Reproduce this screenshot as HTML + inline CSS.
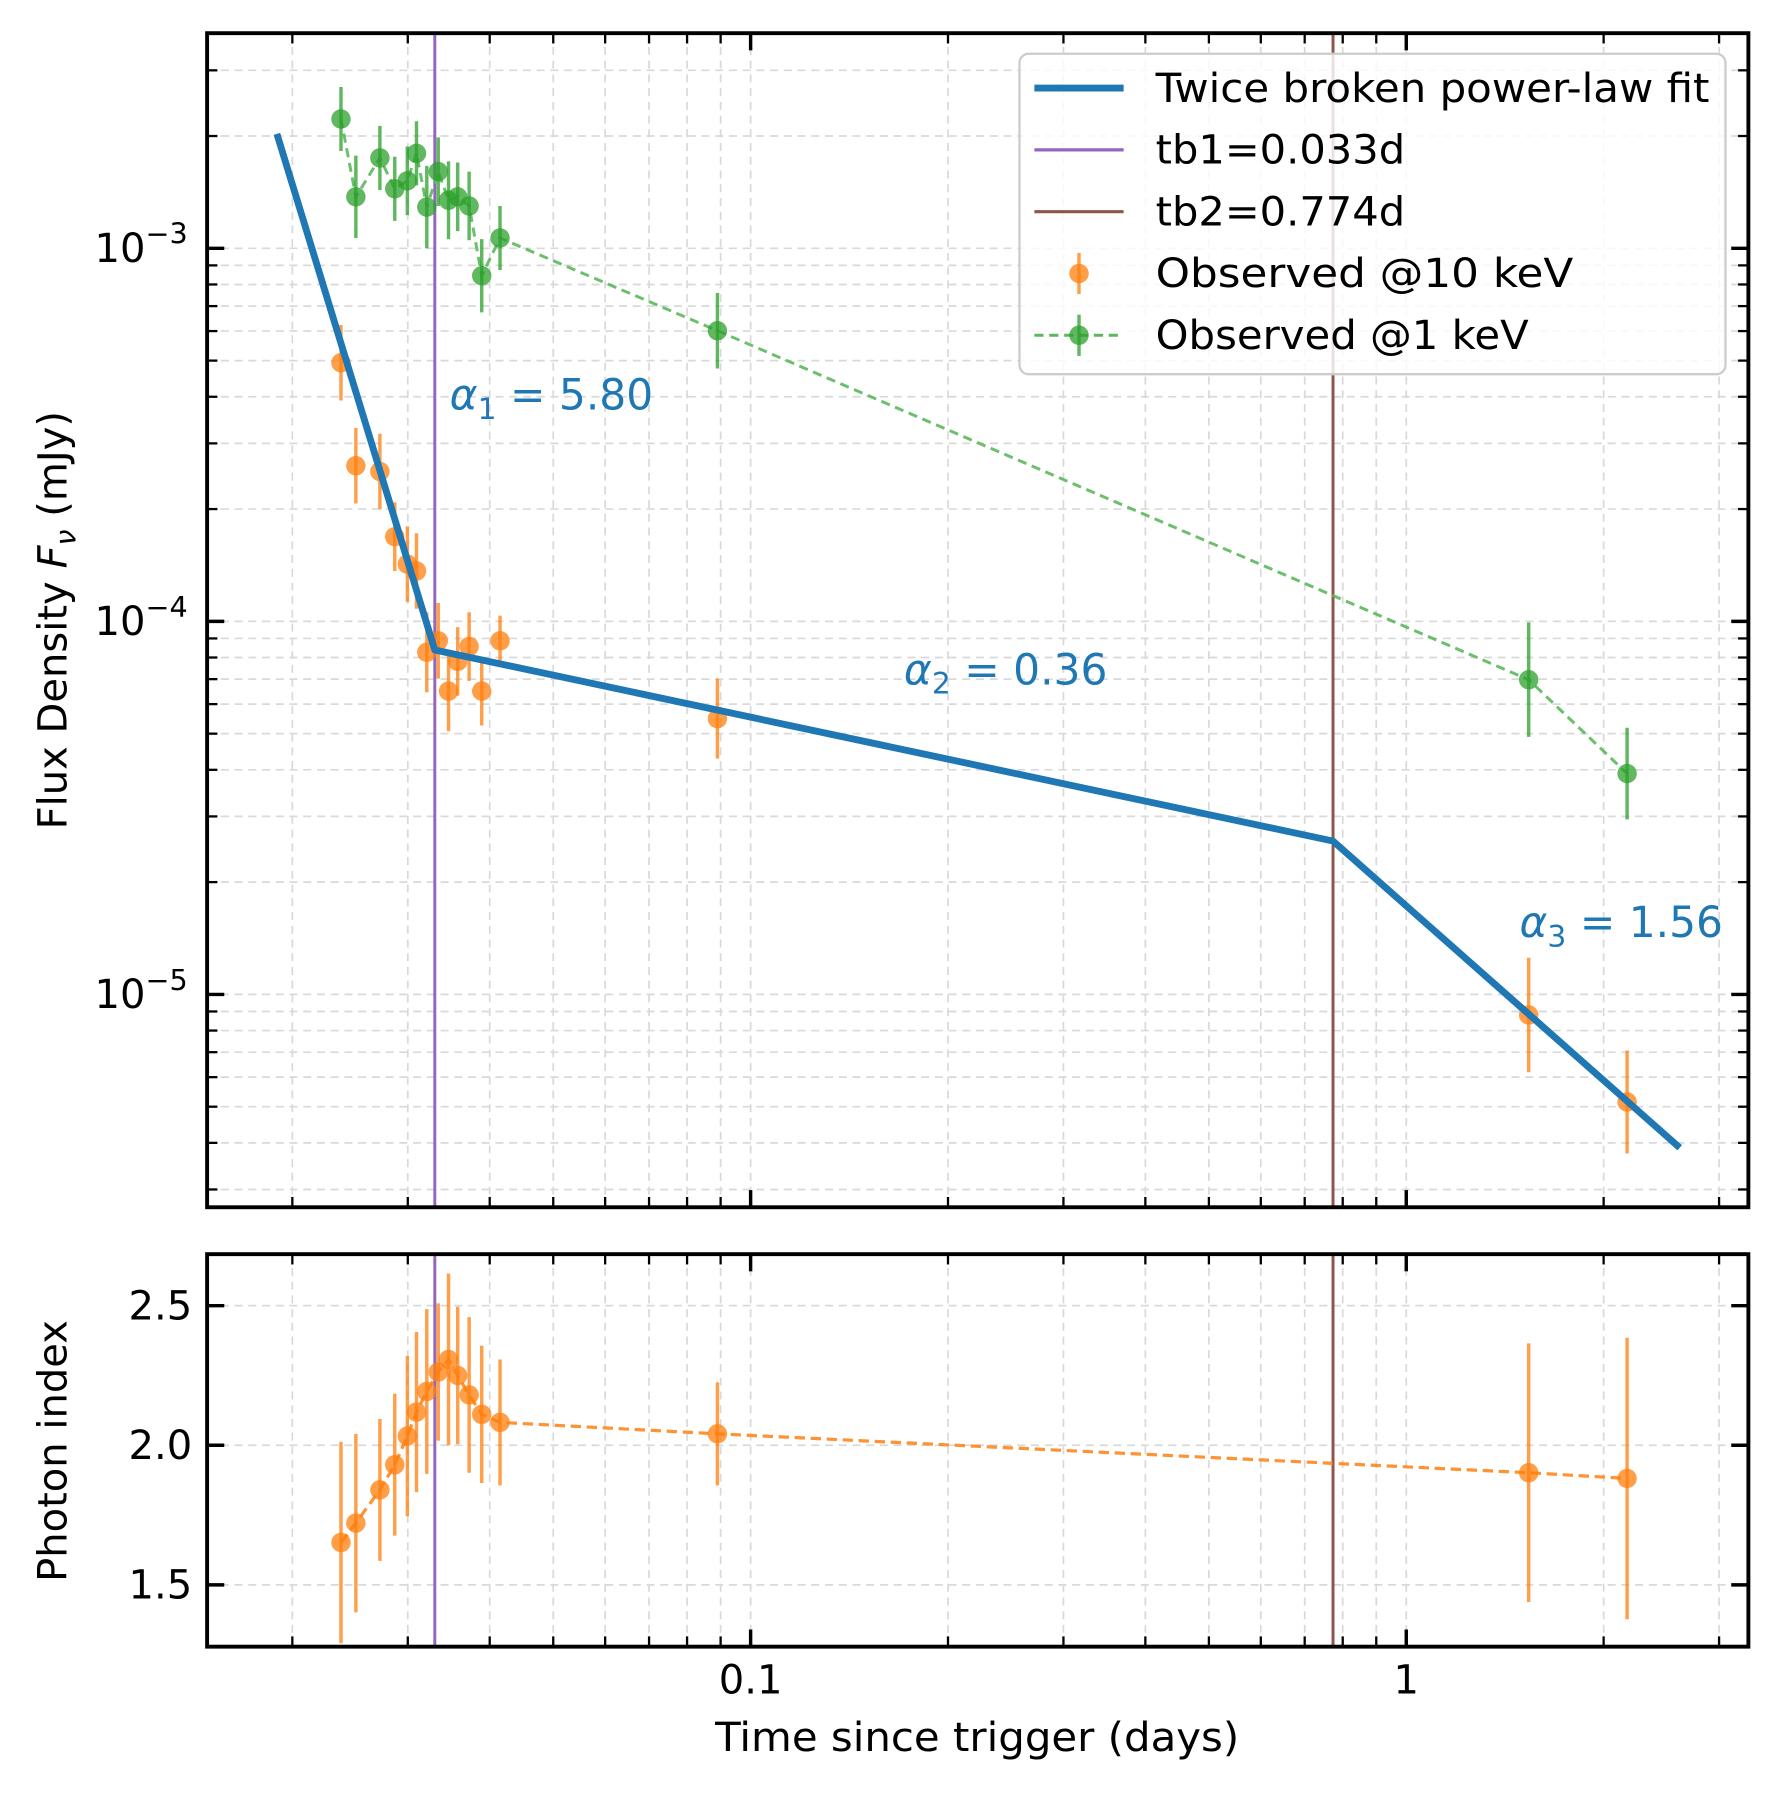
<!DOCTYPE html>
<html><head><meta charset="utf-8"><style>
html,body{margin:0;padding:0;background:#fff;}
svg{display:block;}
text{font-family:"DejaVu Sans","Liberation Sans",sans-serif;}
</style></head><body>
<svg id="s" width="1785" height="1800" viewBox="0 0 1560 1573" preserveAspectRatio="none" xmlns="http://www.w3.org/2000/svg">
<rect width="1560" height="1573" fill="#fff"/>
<g id="grid"></g>
<g id="data"></g>
<g id="frame"></g>
</svg>
<script>
const NS="http://www.w3.org/2000/svg";
function el(p,t,a,txt){const e=document.createElementNS(NS,t);for(const k in a)e.setAttribute(k,a[k]);if(txt!==undefined)e.textContent=txt;p.appendChild(e);return e;}
const G=document.getElementById('grid'),D=document.getElementById('data'),F=document.getElementById('frame');
const L=181,R=1528,T1=29,B1=1055,T2=1096,B2=1439;
const X=t=>656+573*Math.log10(t/0.1);
const Y=f=>217-326*Math.log10(f/1e-3);
const Y2=v=>1263-244*(v-2);
let xs=[];
for(const d of [0.01,0.1,1])for(let m=1;m<10;m++){const t=d*m;const x=X(t);if(x>L+1&&x<R-1)xs.push([x,m==1]);}
const gs={stroke:'#d9d9d9','stroke-width':1.5,'stroke-dasharray':'7,5',fill:'none'};
for(const [x,maj] of xs){
 el(G,'line',Object.assign({x1:x,x2:x,y1:T1,y2:B1},gs));
 el(G,'line',Object.assign({x1:x,x2:x,y1:T2,y2:B2},gs));
 const l=maj?15:9,w=maj?3:2;
 for(const [a,b] of [[T1,1],[B1,-1],[T2,1],[B2,-1]])el(F,'line',{x1:x,x2:x,y1:a,y2:a+b*l,stroke:'#000','stroke-width':w});
}
for(const d of [1e-6,1e-5,1e-4,1e-3])for(let m=1;m<10;m++){const f=d*m;const y=Y(f);if(y>T1+1&&y<B1-1){
 el(G,'line',Object.assign({x1:L,x2:R,y1:y,y2:y},gs));
 const maj=m==1,l=maj?15:9,w=maj?3:2;
 el(F,'line',{x1:L,x2:L+l,y1:y,y2:y,stroke:'#000','stroke-width':w});
 el(F,'line',{x1:R,x2:R-l,y1:y,y2:y,stroke:'#000','stroke-width':w});
}}
for(const v of [1.5,2.0,2.5]){const y=Y2(v);
 el(G,'line',Object.assign({x1:L,x2:R,y1:y,y2:y},gs));
 el(F,'line',{x1:L,x2:L+15,y1:y,y2:y,stroke:'#000','stroke-width':3});
 el(F,'line',{x1:R,x2:R-15,y1:y,y2:y,stroke:'#000','stroke-width':3});
 el(F,'text',{x:168,y:y+12,'text-anchor':'end','font-size':35},v.toFixed(1));
}
for(const [x,c] of [[380,'#9467bd'],[1165,'#8c564b']]){
 el(D,'line',{x1:x,x2:x,y1:T1,y2:B1,stroke:c,'stroke-width':2.6});
 el(D,'line',{x1:x,x2:x,y1:T2,y2:B2,stroke:c,'stroke-width':2.6});
}
const gx=[298,311,332,345,356,364,373,383,392,400,410,421,437,627,1336,1422];
const gy=[104,172,138,165,158,134,181,150,175,172,180,241,208,289,594,676];
const ge=[28,36,28,28,30,28,36,30,34,30,30,32,28,33,50,40];
el(D,'polyline',{points:gx.map((x,i)=>x+','+gy[i]).join(' '),fill:'none',stroke:'#5cb85c','stroke-width':2.6,'stroke-dasharray':'8,5',opacity:0.9});
gx.forEach((x,i)=>{el(D,'line',{x1:x,x2:x,y1:gy[i]-ge[i],y2:gy[i]+ge[i],stroke:'#2ca02c','stroke-width':3,opacity:0.75});
 el(D,'circle',{cx:x,cy:gy[i],r:8.5,fill:'#2ca02c',opacity:0.75});});
const oy=[317,407,412,469,493,499,570,560,604,578,565,604,560,628,887,963];
const oe=[33,33,33,30,33,33,35,33,35,30,30,30,22,35,50,45];
gx.forEach((x,i)=>{el(D,'line',{x1:x,x2:x,y1:oy[i]-oe[i],y2:oy[i]+oe[i],stroke:'#ff7f0e','stroke-width':3,opacity:0.75});
 el(D,'circle',{cx:x,cy:oy[i],r:8.5,fill:'#ff7f0e',opacity:0.75});});
el(D,'polyline',{points:'242,117 380,568 1165,735 1468,1003',fill:'none',stroke:'#1f77b4','stroke-width':6,'stroke-linejoin':'round'});
const by=[1348,1331,1302,1280,1255,1234,1216,1199,1188,1202,1219,1236,1243,1253,1287,1292];
const be=[88,78,62,62,70,70,72,60,75,60,68,60,55,45,113,123];
el(D,'polyline',{points:gx.map((x,i)=>x+','+by[i]).join(' '),fill:'none',stroke:'#ff7f0e','stroke-width':2.8,'stroke-dasharray':'9,5',opacity:0.85});
gx.forEach((x,i)=>{el(D,'line',{x1:x,x2:x,y1:by[i]-be[i],y2:by[i]+be[i],stroke:'#ff7f0e','stroke-width':3,opacity:0.75});
 el(D,'circle',{cx:x,cy:by[i],r:8.5,fill:'#ff7f0e',opacity:0.75});});
const ann=[[393,358,'1','5.80'],[790,598,'2','0.36'],[1328,819,'3','1.56']];
for(const [x,y,s,v] of ann){const t=el(D,'text',{x:x,y:y,'font-size':37,fill:'#1f77b4'});
 el(t,'tspan',{'font-style':'italic'},'α');el(t,'tspan',{'font-size':26,dy:8},s);el(t,'tspan',{dy:-8},' = '+v);}
el(F,'rect',{x:891,y:47,width:617,height:280,rx:8,fill:'#fff','fill-opacity':0.82,stroke:'#cccccc','stroke-width':2});
const ly=[77,131,185,239,293];
el(F,'line',{x1:904,x2:982,y1:77,y2:77,stroke:'#1f77b4','stroke-width':6});
el(F,'line',{x1:904,x2:982,y1:131,y2:131,stroke:'#9467bd','stroke-width':2.8});
el(F,'line',{x1:904,x2:982,y1:185,y2:185,stroke:'#8c564b','stroke-width':2.8});
el(F,'line',{x1:943,x2:943,y1:221,y2:257,stroke:'#ff7f0e','stroke-width':3,opacity:0.75});
el(F,'circle',{cx:943,cy:239,r:8.5,fill:'#ff7f0e',opacity:0.75});
el(F,'line',{x1:904,x2:982,y1:293,y2:293,stroke:'#5cb85c','stroke-width':2.6,'stroke-dasharray':'8,5'});
el(F,'line',{x1:943,x2:943,y1:275,y2:311,stroke:'#2ca02c','stroke-width':3,opacity:0.75});
el(F,'circle',{cx:943,cy:293,r:8.5,fill:'#2ca02c',opacity:0.75});
['Twice broken power-law fit','tb1=0.033d','tb2=0.774d','Observed @10 keV','Observed @1 keV'].forEach((s,i)=>el(F,'text',{x:1010,y:ly[i]+12,'font-size':35,textLength:[484,218,218,365,326][i],lengthAdjust:'spacingAndGlyphs'},s));
el(F,'rect',{x:L,y:T1,width:R-L,height:B1-T1,fill:'none',stroke:'#000','stroke-width':3.4});
el(F,'rect',{x:L,y:T2,width:R-L,height:B2-T2,fill:'none',stroke:'#000','stroke-width':3.4});
for(const [y,e] of [[217,'−3'],[543,'−4'],[869,'−5']]){const t=el(F,'text',{x:164,y:y+12,'text-anchor':'end','font-size':35},'10');
 el(t,'tspan',{'font-size':25,dy:-16},e);}
el(F,'text',{x:656,y:1480,'text-anchor':'middle','font-size':35},'0.1');
el(F,'text',{x:1229,y:1480,'text-anchor':'middle','font-size':35},'1');
el(F,'text',{x:854,y:1530,'text-anchor':'middle','font-size':35,textLength:458,lengthAdjust:'spacingAndGlyphs'},'Time since trigger (days)');
const yl=el(F,'text',{x:0,y:0,'text-anchor':'middle','font-size':35,transform:'translate(58,542) rotate(-90)'},'Flux Density ');
el(yl,'tspan',{'font-style':'italic'},'F');el(yl,'tspan',{'font-style':'italic','font-size':25,dy:8},'ν');el(yl,'tspan',{dy:-8},' (mJy)');
el(F,'text',{x:0,y:0,'text-anchor':'middle','font-size':35,transform:'translate(58,1268) rotate(-90)'},'Photon index');
</script>
</body></html>
